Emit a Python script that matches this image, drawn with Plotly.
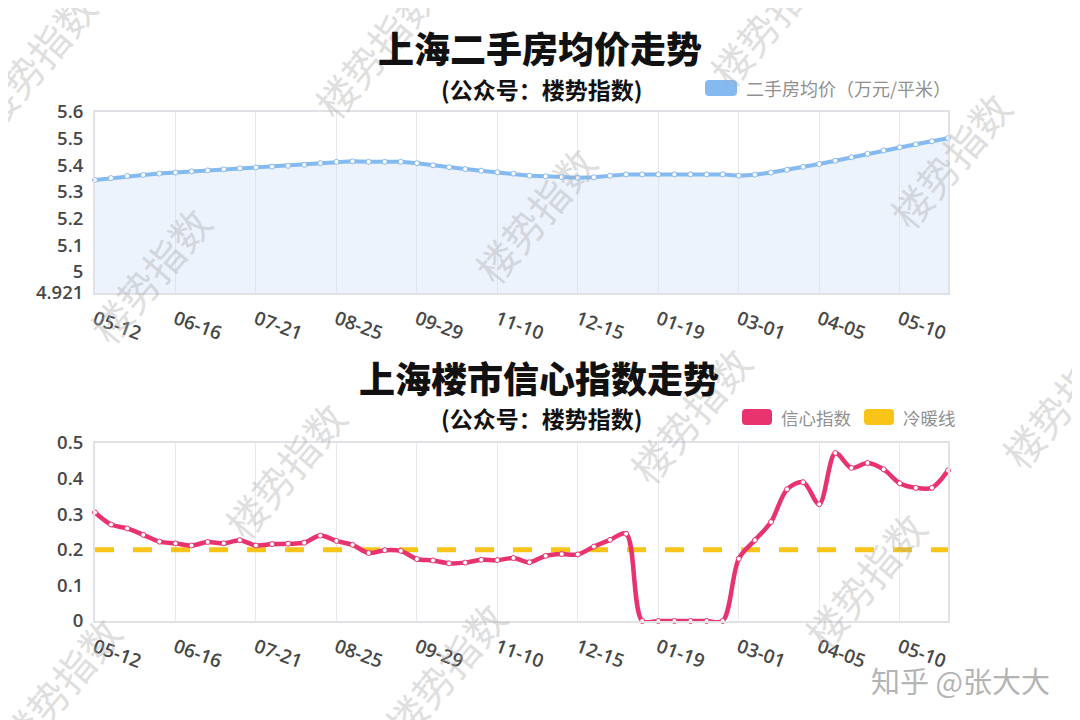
import plotly.graph_objects as go

# ---------------- data ----------------
dates = ["05-12", "05-19", "05-26", "06-02", "06-09", "06-16", "06-23", "06-30", "07-07", "07-14",
         "07-21", "07-28", "08-04", "08-11", "08-18", "08-25", "09-01", "09-08", "09-15", "09-22",
         "09-29", "10-13", "10-20", "10-27", "11-03", "11-10", "11-17", "11-24", "12-01", "12-08",
         "12-15", "12-22", "12-29", "01-05", "01-12", "01-19", "01-26", "02-02", "02-16", "02-23",
         "03-01", "03-08", "03-15", "03-22", "03-29", "04-05", "04-12", "04-19", "04-26", "05-03",
         "05-10", "05-17", "05-24", "05-31"]

avg_price = [5.345, 5.352, 5.360, 5.364, 5.369, 5.373, 5.377, 5.381, 5.385, 5.389,
             5.392, 5.395, 5.398, 5.402, 5.408, 5.413, 5.415, 5.413, 5.413, 5.413,
             5.408, 5.400, 5.393, 5.386, 5.380, 5.374, 5.369, 5.361, 5.359, 5.356,
             5.353, 5.355, 5.361, 5.366, 5.366, 5.366, 5.366, 5.366, 5.366, 5.366,
             5.361, 5.365, 5.373, 5.383, 5.394, 5.405, 5.417, 5.430, 5.443, 5.456,
             5.468, 5.479, 5.490, 5.502]

confidence = [0.305, 0.271, 0.260, 0.242, 0.223, 0.218, 0.212, 0.222, 0.218, 0.227,
              0.212, 0.216, 0.217, 0.220, 0.240, 0.225, 0.214, 0.191, 0.199, 0.197,
              0.174, 0.170, 0.162, 0.164, 0.172, 0.171, 0.177, 0.165, 0.183, 0.188,
              0.187, 0.209, 0.228, 0.245, 0.0, 0.0, 0.0, 0.0, 0.0, 0.0,
              0.175, 0.227, 0.278, 0.370, 0.390, 0.328, 0.472, 0.430, 0.444, 0.426,
              0.387, 0.374, 0.374, 0.423]

threshold_value = 0.2
threshold = [threshold_value for _ in dates]

tick_labels = ["05-12", "06-16", "07-21", "08-25", "09-29", "11-10", "12-15", "01-19", "03-01", "04-05", "05-10"]
price_ticks = [4.921, 5, 5.1, 5.2, 5.3, 5.4, 5.5, 5.6]
price_tick_text = ["4.921", "5", "5.1", "5.2", "5.3", "5.4", "5.5", "5.6"]
conf_ticks = [0, 0.1, 0.2, 0.3, 0.4, 0.5]
conf_tick_text = ["0", "0.1", "0.2", "0.3", "0.4", "0.5"]

title_top = "上海二手房均价走势"
title_bottom = "上海楼市信心指数走势"
subtitle = "(公众号：楼势指数)"
name_price = "二手房均价（万元/平米）"
name_conf = "信心指数"
name_thr = "冷暖线"
watermark = "楼势指数"
signature = "知乎 @张大大"

# ---------------- styling ----------------
OFF = 8                      # page body margin in the browser
W, H = 1080 - OFF, 720 - OFF
ML = 95 - OFF
MR = W - (948 - OFF)
PW = W - ML - MR

BLUE = "#84BAF0"
PINK = "#E8336E"
YELLOW = "#F7C417"
CJK = "Noto Sans CJK SC"
NUM = "Open Sans"


def px(x):
    """screen x (pixels) -> paper x"""
    return (x - OFF - ML) / PW


def py(y):
    """screen y (pixels) -> paper y"""
    return 1 - (y - OFF) / H


fig = go.Figure()

fig.add_trace(go.Scatter(
    x=dates, y=avg_price, name=name_price, mode="lines+markers",
    line=dict(color=BLUE, width=4),
    marker=dict(size=5, color="white", line=dict(color=BLUE, width=1)),
    fill="tozeroy", fillcolor="rgba(200,222,248,0.35)",
    cliponaxis=False, showlegend=False,
    xaxis="x", yaxis="y"))

fig.add_trace(go.Scatter(
    x=dates, y=threshold, name=name_thr, mode="lines",
    line=dict(color=YELLOW, width=5, dash="19px,19px"),
    showlegend=False, xaxis="x2", yaxis="y2"))

fig.add_trace(go.Scatter(
    x=dates, y=confidence, name=name_conf, mode="lines+markers",
    line=dict(color=PINK, width=4.5, shape="spline", smoothing=0.9),
    marker=dict(size=5, color="white", line=dict(color=PINK, width=1)),
    cliponaxis=False, showlegend=False,
    xaxis="x2", yaxis="y2"))

xcommon = dict(
    type="category", categoryorder="array", categoryarray=dates,
    range=[0, len(dates) - 1], automargin=False,
    tickmode="array", tickvals=tick_labels, ticktext=tick_labels,
    tickangle=20, tickfont=dict(family=NUM, size=19, color="#474747", weight=600),
    showgrid=True, gridcolor="#E8E8EE", gridwidth=1,
    showline=True, mirror=True, linecolor="#E2E2E6", linewidth=2,
    ticks="outside", ticklen=6, tickcolor="rgba(0,0,0,0)",
    zeroline=False, fixedrange=True,
)
ycommon = dict(
    tickfont=dict(family=NUM, size=18.5, color="#474747", weight=600),
    showgrid=False, zeroline=False, automargin=False,
    showline=True, mirror=True, linecolor="#E2E2E6", linewidth=2,
    ticks="outside", ticklen=6, tickcolor="rgba(0,0,0,0)",
    fixedrange=True,
)

fig.update_layout(
    width=W, height=H,
    margin=dict(l=ML, r=MR, t=0, b=0, autoexpand=False),
    paper_bgcolor="white", plot_bgcolor="white",
    showlegend=False,
    xaxis=dict(xcommon, domain=[0, 1], anchor="y"),
    xaxis2=dict(xcommon, domain=[0, 1], anchor="y2"),
    yaxis=dict(ycommon, domain=[py(293), py(112)], range=[4.921, 5.6],
               tickmode="array", tickvals=price_ticks, ticktext=price_tick_text, anchor="x"),
    yaxis2=dict(ycommon, domain=[py(621), py(443)], range=[0, 0.5],
                tickmode="array", tickvals=conf_ticks, ticktext=conf_tick_text, anchor="x2"),
)

annotations = []
shapes = []

# watermarks (behind)
wm_positions = [(35, 60), (375, 50), (770, 18), (950, 160), (150, 275), (535, 215),
                (285, 470), (690, 415), (865, 580), (1062, 400), (445, 670), (60, 685)]
for (wx, wy) in wm_positions:
    annotations.append(dict(
        text=watermark, x=px(wx), y=py(wy), xref="paper", yref="paper",
        showarrow=False, textangle=-50, xanchor="center", yanchor="middle",
        font=dict(family=CJK, size=40, color="rgba(170,170,170,0.4)")))

# titles
annotations += [
    dict(text=title_top, x=px(540), y=py(47), xref="paper", yref="paper", showarrow=False,
         xanchor="center", yanchor="middle",
         font=dict(family=CJK, size=36, color="#111111", weight=900)),
    dict(text=subtitle, x=px(541), y=py(89), xref="paper", yref="paper", showarrow=False,
         xanchor="center", yanchor="middle",
         font=dict(family=CJK, size=23, color="#111111", weight=700)),
    dict(text=title_bottom, x=px(539), y=py(377), xref="paper", yref="paper", showarrow=False,
         xanchor="center", yanchor="middle",
         font=dict(family=CJK, size=36, color="#111111", weight=900)),
    dict(text=subtitle, x=px(541), y=py(418), xref="paper", yref="paper", showarrow=False,
         xanchor="center", yanchor="middle",
         font=dict(family=CJK, size=23, color="#111111", weight=700)),
]


def legend_box(x0, y0, w, h, color, r=4):
    x1, y1 = x0 + w, y0 + h
    path = (f"M {px(x0 + r)} {py(y0)} L {px(x1 - r)} {py(y0)} Q {px(x1)} {py(y0)} {px(x1)} {py(y0 + r)} "
            f"L {px(x1)} {py(y1 - r)} Q {px(x1)} {py(y1)} {px(x1 - r)} {py(y1)} "
            f"L {px(x0 + r)} {py(y1)} Q {px(x0)} {py(y1)} {px(x0)} {py(y1 - r)} "
            f"L {px(x0)} {py(y0 + r)} Q {px(x0)} {py(y0)} {px(x0 + r)} {py(y0)} Z")
    return dict(type="path", path=path, xref="paper", yref="paper",
                fillcolor=color, line=dict(width=0))


shapes.append(legend_box(705, 80, 32, 16, BLUE))
annotations.append(dict(text=name_price, x=px(744), y=py(88), xref="paper", yref="paper",
                        showarrow=False, xanchor="left", yanchor="middle",
                        font=dict(family=CJK, size=18, color="#909090")))
shapes.append(legend_box(742, 409, 30, 16, PINK))
annotations.append(dict(text=name_conf, x=px(779), y=py(417), xref="paper", yref="paper",
                        showarrow=False, xanchor="left", yanchor="middle",
                        font=dict(family=CJK, size=17.5, color="#909090")))
shapes.append(legend_box(864, 409, 30, 16, YELLOW))
annotations.append(dict(text=name_thr, x=px(901), y=py(417), xref="paper", yref="paper",
                        showarrow=False, xanchor="left", yanchor="middle",
                        font=dict(family=CJK, size=17.5, color="#909090")))

# signature
annotations.append(dict(text=signature, x=px(1052), y=py(680), xref="paper", yref="paper",
                        showarrow=False, xanchor="right", yanchor="middle",
                        font=dict(family=CJK, size=29, color="#b4b4b4")))

fig.update_layout(annotations=annotations, shapes=shapes)

fig.write_html("out.html")
